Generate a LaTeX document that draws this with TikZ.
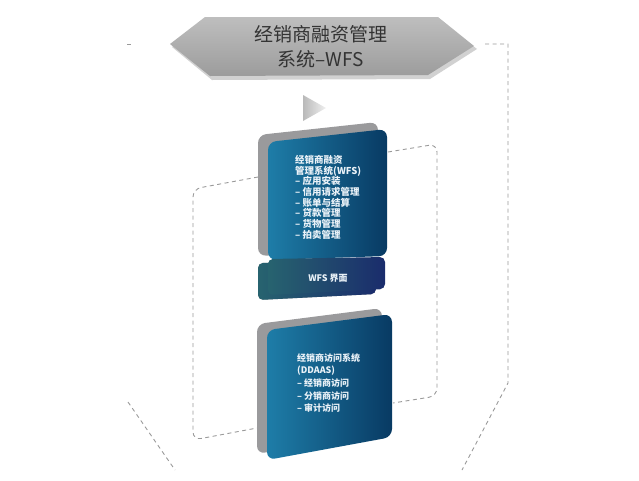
\documentclass[tikz,border=0pt]{standalone}
\usepackage{fontspec}
\setmainfont{Noto Sans CJK SC}
\usetikzlibrary{shadings}
\definecolor{bannerTop}{HTML}{BEBEBE}
\definecolor{bannerMid}{HTML}{F2F2F2}
\definecolor{bannerBot}{HTML}{9C9C9C}
\definecolor{sideGray}{HTML}{9A9A9C}
\definecolor{boxLight}{HTML}{1E7DA8}
\definecolor{boxMid}{HTML}{0D4C79}
\definecolor{boxDark}{HTML}{083A63}
\definecolor{barLeft}{HTML}{27636F}
\definecolor{barRight}{HTML}{1A2C6C}
\definecolor{dashGray}{HTML}{9A9A9A}
\definecolor{titleText}{HTML}{333333}
\definecolor{boxText}{HTML}{EAF2F8}
\tikzset{
  dashline/.style={draw=dashGray, line width=0.9pt, dash pattern=on 4pt off 3.5pt},
  sideface/.style={fill=sideGray, rounded corners=8pt},
  frontface/.style={left color=boxLight, middle color=boxMid, right color=boxDark, rounded corners=8pt},
  barface/.style={left color=barLeft, right color=barRight, rounded corners=5pt},
  boxtext/.style={text=boxText, align=left, inner sep=0pt, anchor=north west},
}
\begin{document}
\begin{tikzpicture}[x=1pt,y=-1pt]
\useasboundingbox (0,0) rectangle (639,480);
% dashed guide lines (behind everything)
\coordinate (oa) at (485,44);
\coordinate (ob) at (508,44);
\coordinate (oc) at (508,383);
\coordinate (od) at (462,470);
\draw[dashline] (oa) -- (ob) -- (oc) -- (od);
\coordinate (la) at (127,44);
\coordinate (lb) at (133,44);
\draw[dashline] (la) -- (lb);
\coordinate (lc) at (128,402);
\coordinate (ld) at (175,470);
\draw[dashline] (lc) -- (ld);
\coordinate (ia) at (258,177);
\coordinate (ib) at (193,189);
\coordinate (ic) at (193,440);
\coordinate (id) at (257,428);
\draw[dashline, rounded corners=8pt] (ia) -- (ib) -- (ic) -- (id);
\coordinate (ie) at (388,152);
\coordinate (if) at (437,144);
\coordinate (ig) at (437,396);
\coordinate (ih) at (393,403);
\draw[dashline, rounded corners=8pt] (ie) -- (if) -- (ig) -- (ih);
% banner
\fill[black, opacity=0.18] (172,47) -- (207,20) -- (440,20) -- (477,49) -- (430,79) -- (212,80) -- cycle;
\path[top color=bannerTop, middle color=bannerMid, bottom color=bannerBot]
  (170,44) -- (205,17) -- (438,17) -- (474,46) -- (428,75) -- (210,76) -- cycle;
\node[text=titleText, align=center, font=\fontsize{19}{25}\selectfont] (title) at (321,47) {经销商融资管理\\系统–WFS};
% triangle
\path[left color=gray!55, right color=gray!12] (303,95) -- (326,108) -- (303,121) -- cycle;
\node[inner sep=0pt] (tri) at (311,108) {};
% upper box
\path[sideface] (258,135) -- (378,122) -- (378,250) -- (258,256) -- cycle;
\path[frontface] (268,142) -- (387,129) -- (387,256) -- (268,260) -- cycle;
\node[boxtext, font=\fontsize{9.5}{10.7}\selectfont\bfseries] (wfs) at (295,155)
  {经销商融资\\管理系统(WFS)\\– 应用安装\\– 信用请求管理\\– 账单与结算\\– 贷款管理\\– 货物管理\\– 拍卖管理};
% WFS bar
\path[barface, fill=sideGray] (258,263) -- (376,260) -- (376,294) -- (258,300) -- cycle;
\path[barface] (268,259) -- (385,257) -- (385,289) -- (268,295) -- cycle;
\node[text=boxText, font=\fontsize{9}{10}\selectfont\bfseries] (bar) at (328,278) {WFS 界面};
% lower box
\path[sideface] (257,324) -- (382,308) -- (382,431) -- (257,454) -- cycle;
\path[frontface] (267,330) -- (392,314) -- (392,437) -- (267,460) -- cycle;
\node[boxtext, font=\fontsize{9}{12.7}\selectfont\bfseries] (ddaas) at (297,353)
  {经销商访问系统\\(DDAAS)\\– 经销商访问\\– 分销商访问\\– 审计访问};
\end{tikzpicture}
\end{document}
